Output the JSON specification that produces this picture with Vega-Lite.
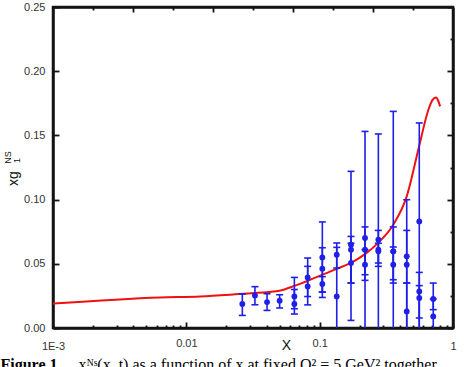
{
  "$schema": "https://vega.github.io/schema/vega-lite/v6.json",
  "width": 400,
  "height": 321,
  "autosize": "none",
  "padding": {"left": 53, "top": 7, "right": 21, "bottom": 39},
  "background": "white",
  "config": {
    "view": {"stroke": "#141414", "strokeWidth": 2.5},
    "axis": {"grid": false, "zindex": 1, "domainColor": "#141414", "domainWidth": 2.5, "tickColor": "#141414", "tickWidth": 1.8, "labelFont": "Liberation Sans", "labelFontSize": 11, "labelColor": "#333", "titleFont": "Liberation Sans", "titleColor": "#111", "titleFontWeight": "normal"}
  },
  "datasets": {
    "curve": [
      {"x": 0.001, "y": 0.0190},
      {"x": 0.00635, "y": 0.0238},
      {"x": 0.0127, "y": 0.0246},
      {"x": 0.0232, "y": 0.0262},
      {"x": 0.0411, "y": 0.0280},
      {"x": 0.05, "y": 0.0290},
      {"x": 0.0654, "y": 0.0330},
      {"x": 0.0918, "y": 0.0390},
      {"x": 0.130, "y": 0.0454},
      {"x": 0.184, "y": 0.0525},
      {"x": 0.2188, "y": 0.0575},
      {"x": 0.2755, "y": 0.0665},
      {"x": 0.3565, "y": 0.0805},
      {"x": 0.4498, "y": 0.1025},
      {"x": 0.5565, "y": 0.1414},
      {"x": 0.654, "y": 0.1700},
      {"x": 0.70, "y": 0.1775},
      {"x": 0.745, "y": 0.1795},
      {"x": 0.775, "y": 0.1770},
      {"x": 0.80, "y": 0.1726}
    ],
    "pts": [
      {"x": 0.0263, "y": 0.0187, "lo": 0.0098, "hi": 0.0265},
      {"x": 0.0327, "y": 0.0254, "lo": 0.0181, "hi": 0.0322},
      {"x": 0.0403, "y": 0.0202, "lo": 0.0137, "hi": 0.0267},
      {"x": 0.0501, "y": 0.0213, "lo": 0.0156, "hi": 0.0259},
      {"x": 0.0646, "y": 0.0246, "lo": 0.0150, "hi": 0.0394},
      {"x": 0.0646, "y": 0.0187, "lo": 0.0109, "hi": 0.0300},
      {"x": 0.0813, "y": 0.0394, "lo": 0.0245, "hi": 0.0545},
      {"x": 0.0813, "y": 0.0324, "lo": 0.0180, "hi": 0.0480},
      {"x": 0.1047, "y": 0.0550, "lo": 0.0280, "hi": 0.0826},
      {"x": 0.1047, "y": 0.0462, "lo": 0.0238, "hi": 0.0625},
      {"x": 0.1047, "y": 0.0343, "lo": 0.0280, "hi": 0.0400},
      {"x": 0.1343, "y": 0.0571, "lo": 0.0467, "hi": 0.0662},
      {"x": 0.1343, "y": 0.0246, "lo": -0.02, "hi": 0.0628},
      {"x": 0.1718, "y": 0.0649, "lo": 0.0059, "hi": 0.1220},
      {"x": 0.1718, "y": 0.0610, "lo": 0.0350, "hi": 0.0713},
      {"x": 0.1718, "y": 0.0506, "lo": 0.0350, "hi": 0.0660},
      {"x": 0.2188, "y": 0.0701, "lo": -0.02, "hi": 0.1531},
      {"x": 0.2188, "y": 0.0610, "lo": 0.0415, "hi": 0.0787},
      {"x": 0.2188, "y": 0.0493, "lo": 0.0371, "hi": 0.0610},
      {"x": 0.2755, "y": 0.0688, "lo": -0.02, "hi": 0.1511},
      {"x": 0.2755, "y": 0.0610, "lo": 0.0480, "hi": 0.0760},
      {"x": 0.2755, "y": 0.0597, "lo": 0.0506, "hi": 0.0660},
      {"x": 0.3565, "y": 0.0597, "lo": -0.02, "hi": 0.1687},
      {"x": 0.3565, "y": 0.0493, "lo": 0.0350, "hi": 0.0631},
      {"x": 0.3565, "y": 0.0597, "lo": 0.0376, "hi": 0.0787},
      {"x": 0.4498, "y": 0.0558, "lo": -0.02, "hi": 0.0999},
      {"x": 0.4498, "y": 0.0493, "lo": 0.0350, "hi": 0.0760},
      {"x": 0.4498, "y": 0.0129, "lo": -0.02, "hi": 0.0350},
      {"x": 0.5585, "y": 0.0830, "lo": -0.02, "hi": 0.1597},
      {"x": 0.5585, "y": 0.0285, "lo": 0.0078, "hi": 0.0433},
      {"x": 0.5585, "y": 0.0234, "lo": -0.02, "hi": 0.0330},
      {"x": 0.711, "y": 0.0226, "lo": 0.0143, "hi": 0.0350},
      {"x": 0.711, "y": 0.0090, "lo": -0.02, "hi": 0.0226}
    ],
    "dummy": [{"a": 0, "b": 0}]
  },
  "layer": [
    {
      "layer": [
        {
          "data": {"name": "curve"},
          "mark": {"type": "line", "color": "#ee1111", "strokeWidth": 2, "interpolate": "monotone", "clip": true},
          "encoding": {
            "x": {"field": "x", "type": "quantitative", "scale": {"type": "log", "domain": [0.001, 1], "nice": false},
              "axis": {"orient": "bottom",
                "values": [0.001,0.002,0.003,0.004,0.005,0.006,0.007,0.008,0.009,0.01,0.02,0.03,0.04,0.05,0.06,0.07,0.08,0.09,0.1,0.2,0.3,0.4,0.5,0.6,0.7,0.8,0.9,1],
                "labelExpr": "datum.value == 0.001 ? '1E-3' : datum.value == 0.01 ? '0.01' : datum.value == 0.1 ? '0.1' : datum.value == 1 ? '1' : ''",
                "tickSize": {"condition": {"test": "datum.value == 0.01 || datum.value == 0.1", "value": -6}, "value": -3},
                "labelPadding": 15, "labelFlush": false, "labelOverlap": false,
                "title": "X", "titleFontSize": 14, "titleX": 233, "titleY": 17, "titleBaseline": "middle", "titleAlign": "center"}},
            "y": {"field": "y", "type": "quantitative", "scale": {"domain": [0, 0.25], "nice": false},
              "axis": {"orient": "left",
                "values": [0,0.025,0.05,0.075,0.1,0.125,0.15,0.175,0.2,0.225,0.25],
                "labelExpr": "round(datum.value*1000) % 50 == 0 ? format(datum.value, '.2f') : ''",
                "tickSize": {"condition": {"test": "round(datum.value*1000) % 50 == 0", "value": -6}, "value": -3},
                "labelPadding": 14, "labelOverlap": false,
                "title": "xg", "titleFontSize": 14, "titleAngle": 270, "titleX": -36, "titleY": 171, "titleAlign": "center", "titleBaseline": "alphabetic"}}
          }
        },
        {
          "data": {"name": "pts"},
          "mark": {"type": "rule", "color": "#1f1fe8", "strokeWidth": 1.6, "clip": true},
          "encoding": {
            "x": {"field": "x", "type": "quantitative"},
            "y": {"field": "lo", "type": "quantitative"},
            "y2": {"field": "hi"}
          }
        },
        {
          "data": {"name": "pts"},
          "mark": {"type": "tick", "orient": "horizontal", "size": 7, "thickness": 1.6, "color": "#1f1fe8", "opacity": 1, "clip": true},
          "encoding": {
            "x": {"field": "x", "type": "quantitative"},
            "y": {"field": "lo", "type": "quantitative"}
          }
        },
        {
          "data": {"name": "pts"},
          "mark": {"type": "tick", "orient": "horizontal", "size": 7, "thickness": 1.6, "color": "#1f1fe8", "opacity": 1, "clip": true},
          "encoding": {
            "x": {"field": "x", "type": "quantitative"},
            "y": {"field": "hi", "type": "quantitative"}
          }
        },
        {
          "data": {"name": "pts"},
          "mark": {"type": "circle", "size": 34, "color": "#1f1fe8", "opacity": 1, "clip": true},
          "encoding": {
            "x": {"field": "x", "type": "quantitative"},
            "y": {"field": "y", "type": "quantitative"}
          }
        }
      ]
    },
    {
      "data": {"name": "dummy"},
      "mark": {"type": "point", "opacity": 0},
      "encoding": {
        "x": {"field": "a", "type": "quantitative", "scale": {"domain": [0, 10], "nice": false},
          "axis": {"orient": "top", "values": [1,2,3,4,5,6,7,8,9], "labels": false, "title": null,
            "tickSize": {"condition": {"test": "datum.value % 2 == 0", "value": -5}, "value": -3}}},
        "y": {"field": "b", "type": "quantitative", "scale": {"domain": [0, 0.25], "nice": false},
          "axis": {"orient": "right", "values": [0,0.025,0.05,0.075,0.1,0.125,0.15,0.175,0.2,0.225,0.25], "labels": false, "title": null,
            "tickSize": {"condition": {"test": "round(datum.value*1000) % 50 == 0", "value": -6}, "value": -3}}}
      }
    },
    {
      "data": {"name": "dummy"},
      "mark": {"type": "point", "opacity": 0},
      "encoding": {
        "x": {"field": "a", "type": "quantitative", "scale": {"domain": [0, 10]},
          "axis": {"orient": "bottom", "domain": false, "ticks": false, "labels": false,
            "title": "Figure 1.", "titleFont": "Liberation Serif", "titleFontSize": 16, "titleFontWeight": "bold", "titleColor": "black",
            "titleX": -53, "titleY": 41, "titleAlign": "left", "titleBaseline": "alphabetic"}},
        "y": {"field": "b", "type": "quantitative", "scale": {"domain": [0, 0.25]},
          "axis": {"orient": "left", "domain": false, "ticks": false, "labels": false,
            "title": "1", "titleFontSize": 9, "titleAngle": 270, "titleX": -34, "titleY": 153, "titleAlign": "center", "titleBaseline": "alphabetic"}}
      }
    },
    {
      "data": {"name": "dummy"},
      "mark": {"type": "point", "opacity": 0},
      "encoding": {
        "x": {"field": "a", "type": "quantitative", "scale": {"domain": [0, 10]},
          "axis": {"orient": "bottom", "domain": false, "ticks": false, "labels": false,
            "title": "xᴺˢ(x, t) as a function of x at fixed Q² = 5 GeV² together", "titleFont": "Liberation Serif", "titleFontSize": 16, "titleFontStyle": "normal", "titleFontWeight": "normal", "titleColor": "black",
            "titleX": 25, "titleY": 41, "titleAlign": "left", "titleBaseline": "alphabetic"}},
        "y": {"field": "b", "type": "quantitative", "scale": {"domain": [0, 0.25]},
          "axis": {"orient": "left", "domain": false, "ticks": false, "labels": false,
            "title": "NS", "titleFontSize": 9, "titleAngle": 270, "titleX": -43, "titleY": 150, "titleAlign": "center", "titleBaseline": "alphabetic"}}
      }
    }
  ],
  "resolve": {"scale": {"x": "independent", "y": "independent"}, "axis": {"x": "independent", "y": "independent"}}
}
